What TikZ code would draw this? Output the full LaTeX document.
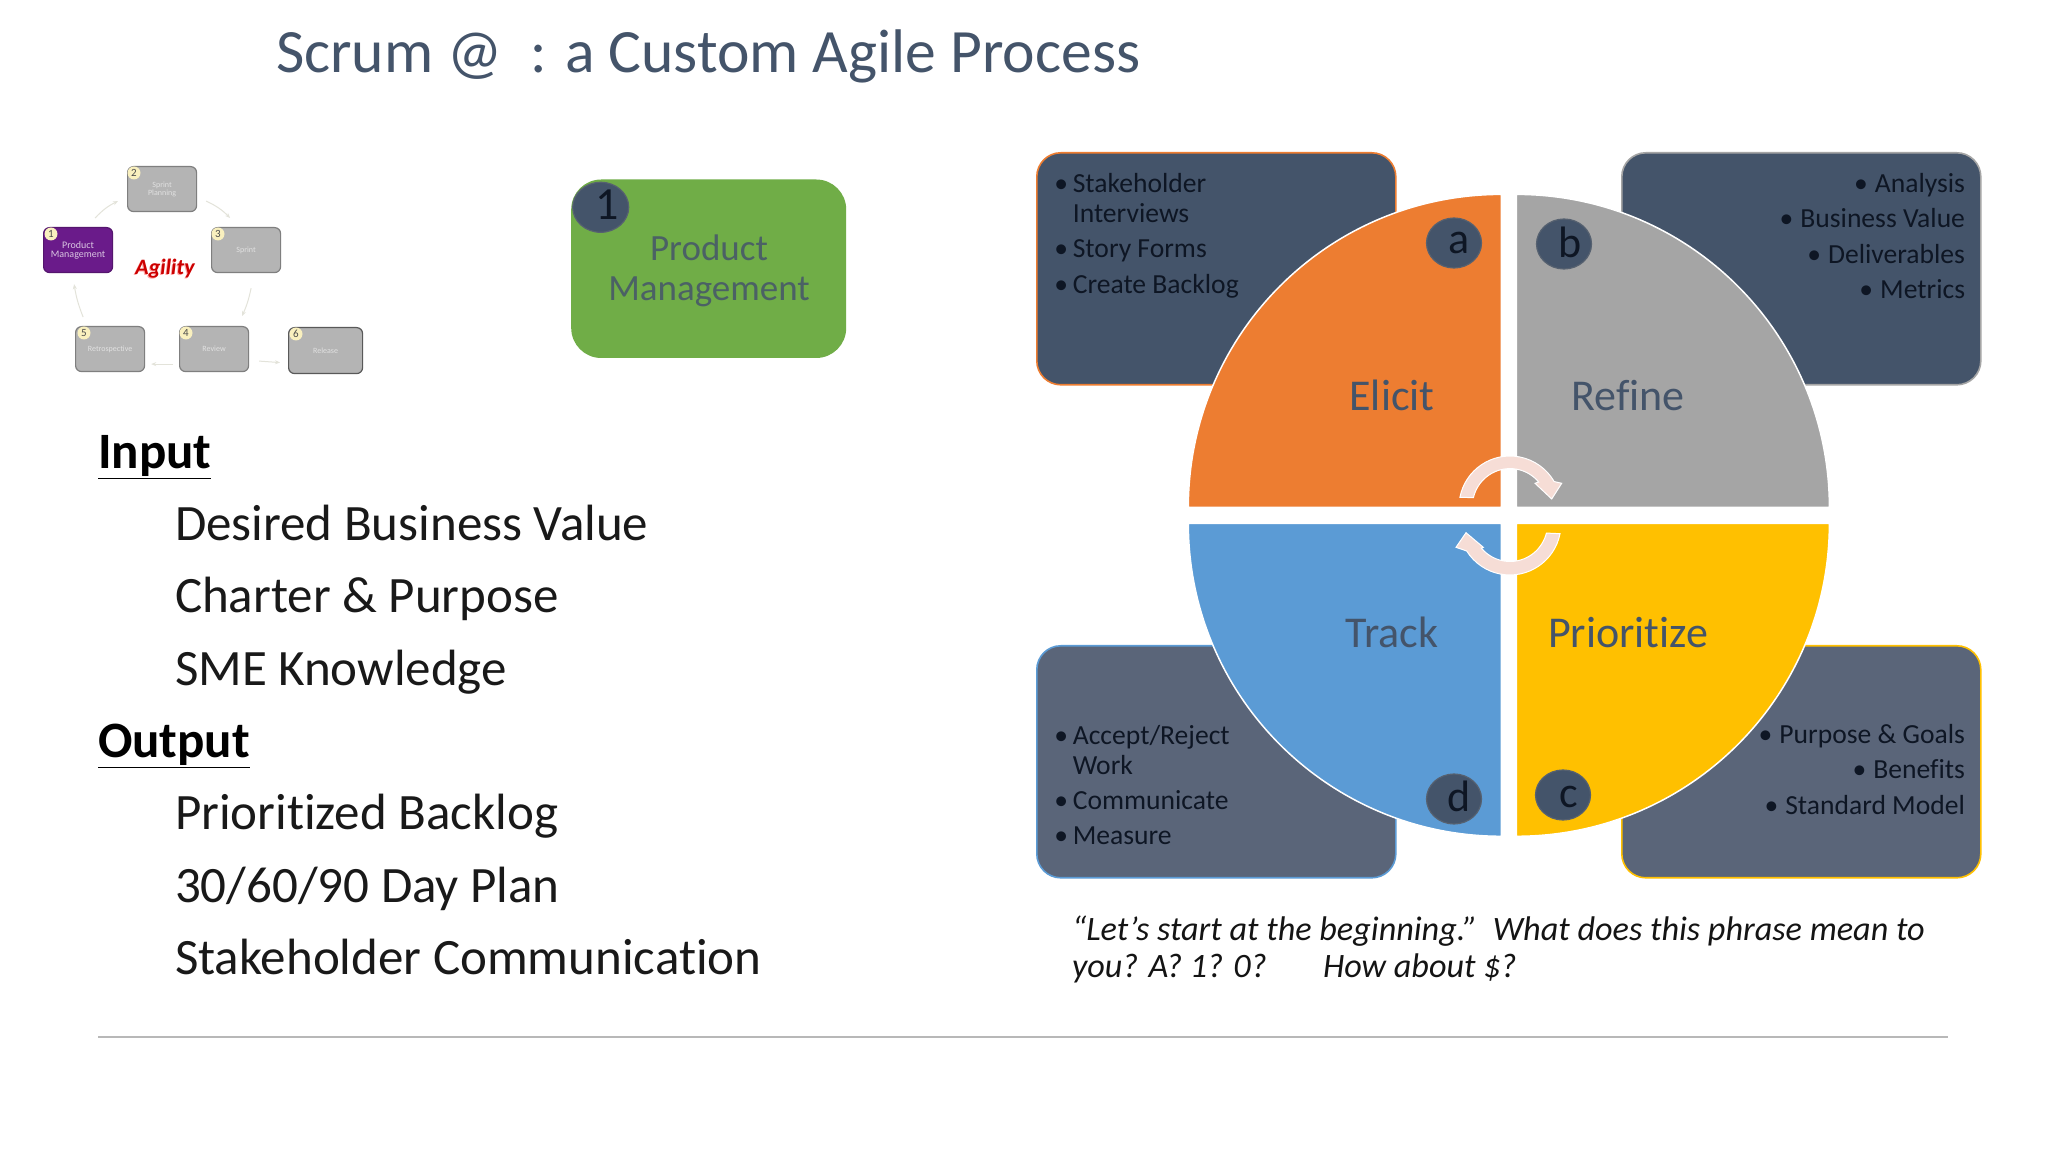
\documentclass[tikz,border=0pt]{standalone}
\usepackage{fontspec}
\setmainfont{Carlito}[Ligatures=CommonOff]
\newcommand{\fs}[1]{\fontsize{#1}{#1}\selectfont}
\definecolor{slate}{HTML}{44546A}
\definecolor{slatetwo}{HTML}{5A6579}
\definecolor{inkdark}{HTML}{0E1624}
\definecolor{orangeq}{HTML}{ED7D31}
\definecolor{grayq}{HTML}{A5A5A5}
\definecolor{goldq}{HTML}{FFC000}
\definecolor{blueq}{HTML}{5B9BD5}
\definecolor{greenb}{HTML}{70AD47}
\definecolor{pinkarrow}{HTML}{F6DDD6}
\definecolor{thumbgray}{HTML}{B4B4B4}
\definecolor{thumbedge}{HTML}{7F7F7F}
\definecolor{thumbarrow}{HTML}{E3E3DA}
\definecolor{purp}{HTML}{6A1B8A}
\usetikzlibrary{arrows.meta,shapes.geometric}
\tikzset{
  x=1pt,y=1pt,
  txt/.style={inner sep=0pt,outer sep=0pt,anchor=base west},
  rtxt/.style={inner sep=0pt,outer sep=0pt,anchor=base east,font=\fs{27.6},text=inkdark},
  ltxt/.style={inner sep=0pt,outer sep=0pt,anchor=base west,font=\fs{27.6},text=inkdark},
  listhead/.style={txt,font=\fs{51}\bfseries,text=black},
  listitem/.style={txt,font=\fs{51},text=black!90},
  cardbox/.style={rounded corners=24pt,line width=1.6pt,minimum width=359pt,minimum height=232pt,inner sep=0pt,anchor=north west},
  quad/.style={draw=white,line width=1.5pt},
  quadlabel/.style={inner sep=0pt,anchor=base,font=\fs{44},text=slate},
  badge/.style={ellipse,inner sep=0pt,minimum width=55pt,minimum height=50pt,fill=slate,draw=slate!70!gray,line width=1.2pt},
  badgeletter/.style={inner sep=0pt,anchor=base,font=\fs{44},text=inkdark},
  thumb/.style={rounded corners=6pt,fill=thumbgray,draw=thumbedge,line width=1.2pt,inner sep=0pt,anchor=north west,minimum width=69pt,minimum height=45pt,align=center,font=\fs{8},text=white!60!thumbgray},
  thumbnum/.style={circle,inner sep=0pt,minimum size=13pt,fill=white!80!yellow!90!brown,font=\fs{11},text=black!70},
  thumbarr/.style={-{Stealth[length=5pt,width=4pt]},draw=thumbarrow,line width=1pt},
  sweep/.style={fill=pinkarrow,draw=white,line width=1pt,line join=miter},
}
\begin{document}
\begin{tikzpicture}
\useasboundingbox[fill=white] (0,0) rectangle (2048,1152);
\begin{scope}[shift={(0,1152)}]
% title
\node[txt,font=\fs{61.6},text=slate] (title) at (276,-73) {Scrum @ \ : a Custom Agile Process};

% thumbnail
\node[thumb,fill=purp,draw=purp!80!black,text=white!75!purp,font=\fs{10},minimum width=69pt] (tpm) at (43,-227) {Product\\[-1pt]Management};
\node[thumb] (t2) at (127,-166) {Sprint\\Planning};
\node[thumb] (t3) at (211,-227) {Sprint};
\node[thumb] (t4) at (179,-326) {Review};
\node[thumb] (t5) at (75,-326) {Retrospective};
\node[thumb,minimum width=74pt,minimum height=46pt,draw=black!65] (t6) at (288,-327) {Release};
\node[thumbnum] (n1) at (tpm.north west) [xshift=8pt,yshift=-7pt] {1};
\node[thumbnum] (n2) at (t2.north west) [xshift=7pt,yshift=-7pt] {2};
\node[thumbnum] (n3) at (t3.north west) [xshift=7pt,yshift=-7pt] {3};
\node[thumbnum] (n4) at (t4.north west) [xshift=7pt,yshift=-7pt] {4};
\node[thumbnum] (n5) at (t5.north west) [xshift=9pt,yshift=-7pt] {5};
\node[thumbnum] (n6) at (t6.north west) [xshift=8pt,yshift=-7pt] {6};
\draw[thumbarr] ([shift={(17,9)}]tpm.north) to[bend left=10] ([shift={(-9,-12)}]t2.west);
\draw[thumbarr] ([shift={(9,-12)}]t2.east) to[bend left=10] ([shift={(-16,9)}]t3.north);
\draw[thumbarr] ([shift={(5,-15)}]t3.south) to[bend left=6] ([shift={(28,10)}]t4.north);
\draw[thumbarr] ([shift={(-6,-15)}]t4.west) -- ([shift={(6,-15)}]t5.east);
\draw[thumbarr] ([shift={(-27,9)}]t5.north) to[bend left=6] ([shift={(-4,-11)}]tpm.south);
\draw[thumbarr] ([shift={(10,-12)}]t4.east) -- ([shift={(-8,-12)}]t6.west);
\node[inner sep=0pt,font=\fs{22}\bfseries\itshape,text=red!35!white] (agilityshadow) at (164,-270) {Agility};
\node[inner sep=0pt,font=\fs{22}\bfseries\itshape,text=red!80!black] (agility) at (165,-269) {Agility};

% product management
\node[rounded corners=30pt,fill=greenb,inner sep=0pt,minimum width=275pt,minimum height=178.5pt,anchor=north west] (pm) at (571,-179.3) {};
\node[inner sep=0pt,anchor=base,font=\fs{37},text=slate!85!greenb] (pm1) at (709,-260.5) {Product};
\node[inner sep=0pt,anchor=base,font=\fs{37},text=slate!85!greenb] (pm2) at (709,-300.5) {Management};
\node[badge,minimum width=56pt] (one) at (600.7,-207.3) {};
\node[badgeletter,font=\fs{46}] (onetxt) at (607,-220) {1};

% input / output lists
\node[listhead] (inp) at (98,-469) {\underline{Input}};
\node[listitem] (i1) at (175,-541) {Desired Business Value};
\node[listitem] (i2) at (175,-613) {Charter \& Purpose};
\node[listitem] (i3) at (175,-686) {SME Knowledge};
\node[listhead] (out) at (98,-758) {\underline{Output}};
\node[listitem] (o1) at (175,-830) {Prioritized Backlog};
\node[listitem] (o2) at (175,-902) {30/60/90 Day Plan};
\node[listitem] (o3) at (175,-974) {Stakeholder Communication};

% rule
\coordinate (ruleL) at (98,-1037);
\coordinate (ruleR) at (1948,-1037);
\draw[draw=black!28,line width=1.3pt] (ruleL) -- (ruleR);

% cards
\node[cardbox,fill=slate,draw=orangeq] (ca) at (1036,-152) {};
\node[cardbox,fill=slate,draw=grayq] (cb) at (1621,-152) {};
\node[cardbox,fill=slatetwo,draw=goldq] (cc) at (1621,-645) {};
\node[cardbox,fill=slatetwo,draw=blueq] (cd) at (1036,-645) {};

% card lists
\newcommand{\bul}{\makebox[18.5pt][l]{•}}
\newcommand{\nobul}{\hspace*{18.5pt}}
\node[ltxt] (a1) at (1054.3,-193) {\bul Stakeholder};
\node[ltxt] (a2) at (1054.3,-223) {\nobul Interviews};
\node[ltxt] (a3) at (1054.3,-258) {\bul Story Forms};
\node[ltxt] (a4) at (1054.3,-294) {\bul Create Backlog};
\node[rtxt] (b1) at (1965,-193) {•\hspace{7pt}Analysis};
\node[rtxt] (b2) at (1965,-228) {•\hspace{7pt}Business Value};
\node[rtxt] (b3) at (1965,-264) {•\hspace{7pt}Deliverables};
\node[rtxt] (b4) at (1965,-299) {•\hspace{7pt}Metrics};
\node[rtxt] (c1) at (1965,-744) {•\hspace{7pt}Purpose \& Goals};
\node[rtxt] (c2) at (1965,-779) {•\hspace{7pt}Benefits};
\node[rtxt] (c3) at (1965,-815) {•\hspace{7pt}Standard Model};
\node[ltxt] (d1) at (1054.3,-744.5) {\bul Accept/Reject};
\node[ltxt] (d2) at (1054.3,-774.5) {\nobul Work};
\node[ltxt] (d3) at (1054.3,-809.5) {\bul Communicate};
\node[ltxt] (d4) at (1054.3,-844.5) {\bul Measure};

% quadrants
\fill[quad,fill=orangeq] (1501.3,-507.4) -- (1188.3,-507.4) arc[start angle=180,end angle=90,radius=313] -- cycle;
\fill[quad,fill=grayq] (1516.4,-507.4) -- (1829.4,-507.4) arc[start angle=0,end angle=90,radius=313] -- cycle;
\fill[quad,fill=blueq] (1501.3,-523.3) -- (1188.3,-523.3) arc[start angle=180,end angle=270,radius=313] -- cycle;
\fill[quad,fill=goldq] (1516.4,-523.3) -- (1829.4,-523.3) arc[start angle=0,end angle=-90,radius=313] -- cycle;

\node[quadlabel] (qa) at (1392,-410.5) {Elicit};
\node[quadlabel] (qb) at (1628,-410.5) {Refine};
\node[quadlabel] (qc) at (1628,-648) {Prioritize};
\node[quadlabel] (qd) at (1392,-648) {Track};

\node[badge] (ba) at (1454,-243) {};
\node[badge] (bb) at (1564,-244) {};
\node[badge] (bc) at (1563,-795) {};
\node[badge] (bd) at (1454,-799) {};
\node[badgeletter] (la) at (1459,-254) {a};
\node[badgeletter] (lb) at (1570,-258) {b};
\node[badgeletter] (lc) at (1569,-808) {c};
\node[badgeletter] (ld) at (1459,-812) {d};

% cycle arrows
\draw[sweep] (1459.9,-497.3) arc[start angle=169,end angle=30,radius=51] -- (1561.7,-483.3) -- (1551.7,-499) -- (1535,-483.3) -- (1538.7,-482) arc[start angle=40,end angle=167,radius=37.5] -- cycle;
\draw[sweep] (1560,-533.7) arc[start angle=-11,end angle=-148,radius=51] -- (1456,-547.3) -- (1466,-532.7) -- (1483.3,-547.3) -- (1481.3,-548.1) arc[start angle=-140,end angle=-14,radius=37.5] -- cycle;

% caption
\node[txt,font=\fs{34.2}\itshape,text=black!92] (cap1) at (1072,-940) {“Let’s start at the beginning.”\ \ What does this phrase mean to};
\node[txt,font=\fs{34.2}\itshape,text=black!92] (cap2) at (1072,-977) {you? A? 1? 0?};
\node[txt,font=\fs{34.2}\itshape,text=black!92] (cap3) at (1323,-977) {How about \$?};
\end{scope}
\end{tikzpicture}
\end{document}
